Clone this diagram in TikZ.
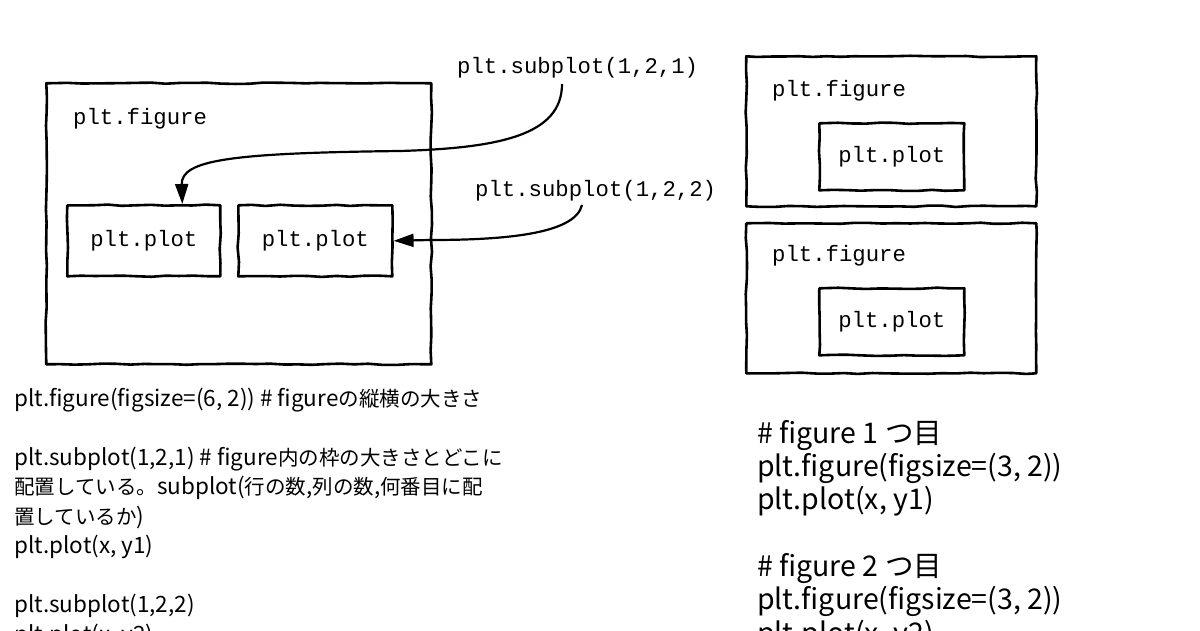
\documentclass[tikz,border=0pt]{standalone}
\usepackage{fontspec}
\setmonofont{Liberation Mono}
\newfontfamily\jp{Noto Sans CJK JP}
\usetikzlibrary{arrows.meta,decorations.pathmorphing}
\newcommand\cjkL[1]{{\fontsize{20.5}{20.5}\selectfont #1}}
\begin{document}
\begin{tikzpicture}[x=1pt,y=-1pt,
  rough/.style={draw, line width=2.6pt, line join=round, decorate,
    decoration={random steps, segment length=14pt, amplitude=0.7pt}},
  figbox/.style={rough, inner sep=0pt, anchor=north west},
  plotbox/.style={rough, inner sep=0pt, anchor=north west,
    font=\ttfamily\fontsize{22.3}{22.3}\selectfont},
  code/.style={font=\ttfamily\fontsize{22.3}{22.3}\selectfont, inner sep=0pt, anchor=base west},
  note/.style={font=\jp\fontsize{22.5}{22.5}\selectfont, inner sep=0pt, anchor=base west},
  noteR/.style={font=\jp\fontsize{28.5}{28.5}\selectfont, inner sep=0pt, anchor=base west},
  arr/.style={line width=2.2pt, -{Triangle[length=20pt,width=13pt]}},
]
\pgfmathsetseed{7}
\useasboundingbox (0,0) rectangle (1200,630);
\fill[white] (0,0) rectangle (1200,630);

% left figure
\node[figbox, minimum width=385pt, minimum height=281pt] (F) at (45,82) {};
\node[code] (Fl) at (73,124) {plt.figure};
\node[plotbox, minimum width=153pt, minimum height=71pt] (P1) at (66,204) {plt.plot};
\node[plotbox, minimum width=154pt, minimum height=71pt] (P2) at (237,204) {plt.plot};

\node[code] (S1) at (457,73) {plt.subplot(1,2,1)};
\node[code] (S2) at (475,196) {plt.subplot(1,2,2)};

\coordinate (a1) at (562,84);
\coordinate (a2) at (582,205);
\draw[arr] (a1) .. controls (562,135) and (500,148) .. (400,151)
  .. controls (230,153) and (181,160) .. ([xshift=38.5pt]P1.north);
\draw[arr] (a2) .. controls (575,235) and (500,240) .. (430,240) -- (P2.east);

% right figures
\node[figbox, minimum width=290pt, minimum height=150pt] (G1) at (745,55) {};
\node[code] (G1l) at (772,96) {plt.figure};
\node[plotbox, minimum width=145pt, minimum height=67pt] (Q1) at (818,122) {plt.plot};
\node[figbox, minimum width=290pt, minimum height=150pt] (G2) at (745,222) {};
\node[code] (G2l) at (772,261) {plt.figure};
\node[plotbox, minimum width=145pt, minimum height=67pt] (Q2) at (818,287) {plt.plot};

% left notes
\node[note] (L1) at (14,406) {plt.figure(figsize=(6, 2)) \# figure\cjkL{の縦横の大きさ}};
\node[note] (L2) at (14,465) {plt.subplot(1,2,1) \# figure\cjkL{内の枠の大きさとどこに}};
\node[note] (L3) at (14,494.5) {\cjkL{配置している。}subplot(\cjkL{行の数},\cjkL{列の数},\cjkL{何番目に配}};
\node[note] (L4) at (14,524) {\cjkL{置しているか}) };
\node[note] (L5) at (14,553.5) {plt.plot(x, y1)};
\node[note] (L6) at (14,612.5) {plt.subplot(1,2,2)};
\node[note] (L7) at (14,642) {plt.plot(x, y2)};

% right notes
\node[noteR] (R1) at (757,443) {\# figure 1 つ目};
\node[noteR] (R2) at (757,476) {plt.figure(figsize=(3, 2))};
\node[noteR] (R3) at (757,509.5) {plt.plot(x, y1)};
\node[noteR] (R4) at (757,576) {\# figure 2 つ目};
\node[noteR] (R5) at (757,609.5) {plt.figure(figsize=(3, 2))};
\node[noteR] (R6) at (757,643) {plt.plot(x, y2)};
\end{tikzpicture}
\end{document}
